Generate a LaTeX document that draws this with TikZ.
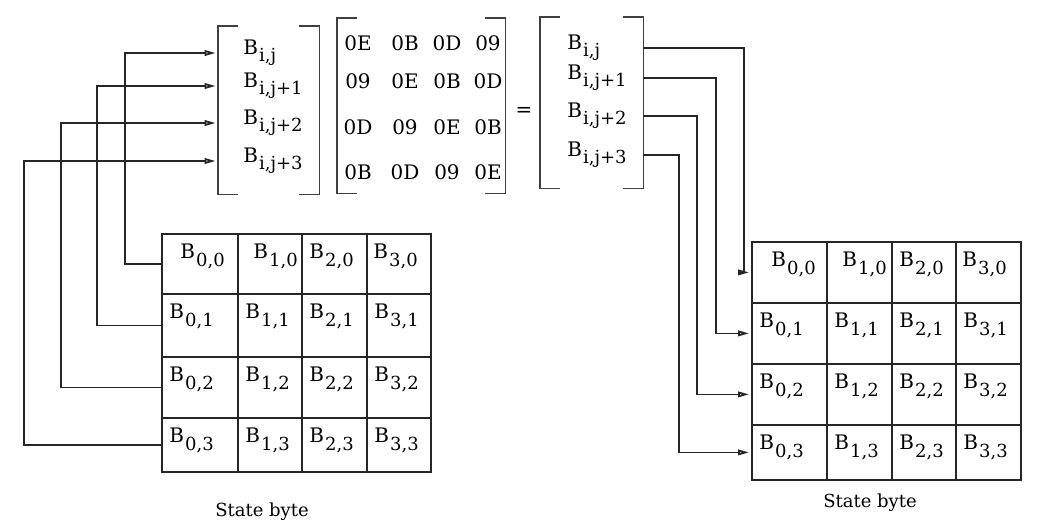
\documentclass[tikz,border=0pt]{standalone}
\usepackage{fontspec}
\setmainfont{DejaVu Serif}
\usetikzlibrary{arrows.meta,positioning,calc}

\newcommand\Bsub[1]{B\kern0.5pt\raisebox{-3.6pt}{\fontsize{9}{10}\selectfont #1}}

\begin{document}
\begin{tikzpicture}[
  x=0.5pt, y=-0.5pt,
  font=\fontsize{10}{12}\selectfont,
  cell/.style={draw=black!85, line width=0.9pt, inner sep=0pt, anchor=north west},
  lbl/.style={inner sep=0pt, anchor=north west},
  ent/.style={inner sep=0pt, anchor=west},
  num/.style={inner sep=0pt},
  caption/.style={inner sep=0pt, font=\fontsize{9}{11}\selectfont},
  vec/.style={inner sep=0pt},
  brk/.style={draw=black!75, line width=0.9pt},
  wire/.style={draw=black!85, line width=0.9pt, -{Triangle[open, length=5.5pt, width=2.8pt]}, shorten >=1pt}
]
\useasboundingbox (0,0) rectangle (1040,525);

% input column vector
\node[vec, minimum width=101*0.5pt, minimum height=168*0.5pt] (vecA) at (268.5,110) {};
\draw[brk] ([xshift=10pt]vecA.north west) -| (vecA.south west) -- ++(20,0);
\draw[brk] ([xshift=-10pt]vecA.north east) -| (vecA.south east) -- ++(-20,0);
\foreach \r/\y/\s in {0/53/{i,j}, 1/86/{i,j+1}, 2/123/{i,j+2}, 3/161/{i,j+3}}
  \node[ent] (a-\r) at (243,\y) {\Bsub{\s}};

% InvMixColumns matrix
\node[vec, minimum width=168*0.5pt, minimum height=175*0.5pt] (vecM) at (421,105.5) {};
\draw[brk] ([xshift=10pt]vecM.north west) -| (vecM.south west) -- ++(20,0);
\draw[brk] ([xshift=-10pt]vecM.north east) -| (vecM.south east) -- ++(-20,0);
\foreach \r/\y/\a/\b/\cc/\d in {0/43/0E/0B/0D/09, 1/81/09/0E/0B/0D, 2/127/0D/09/0E/0B, 3/172/0B/0D/09/0E} {
  \node[num] (m-\r-0) at (358,\y) {\a};
  \node[num] (m-\r-1) at (405,\y) {\b};
  \node[num] (m-\r-2) at (447,\y) {\cc};
  \node[num] (m-\r-3) at (488,\y) {\d};
}

\node[num] (eq) at (524,112) {=};

% output column vector
\node[vec, minimum width=103*0.5pt, minimum height=171*0.5pt] (vecC) at (591.5,102.5) {};
\draw[brk] ([xshift=10pt]vecC.north west) -| (vecC.south west) -- ++(20,0);
\draw[brk] ([xshift=-10pt]vecC.north east) -| (vecC.south east) -- ++(-20,0);
\foreach \r/\y/\s in {0/48/{i,j}, 1/78/{i,j+1}, 2/116/{i,j+2}, 3/155/{i,j+3}}
  \node[ent] (c-\r) at (567,\y) {\Bsub{\s}};

% state grids
\foreach \c/\x/\w/\dx in {0/161/76/19, 1/237/64/16, 2/301/65/8, 3/366/64/7}
  \foreach \r/\y/\h in {0/233/60, 1/293/63, 2/356/61, 3/417/54} {
    \node[cell, minimum width=\w*0.5pt, minimum height=\h*0.5pt] (L-\c-\r) at (\x,\y) {};
    \pgfmathsetmacro\tx{\r==0 ? \dx : 8}
    \node[lbl] (tL-\c-\r) at ([shift={(\tx,11)}]L-\c-\r.north west) {\Bsub{\c,\r}};
  }
\foreach \c/\x/\w/\dx in {0/751/75/20, 1/826/65/16, 2/891/64/8, 3/955/65/7}
  \foreach \r/\y/\h in {0/241/61, 1/302/61, 2/363/61, 3/424/55} {
    \node[cell, minimum width=\w*0.5pt, minimum height=\h*0.5pt] (R-\c-\r) at (\x,\y) {};
    \pgfmathsetmacro\tx{\r==0 ? \dx : 8}
    \node[lbl] (tR-\c-\r) at ([shift={(\tx,11)}]R-\c-\r.north west) {\Bsub{\c,\r}};
  }

\node[caption] (capL) at (262,512) {State byte};
\node[caption] (capR) at (870,503) {State byte};

% wires: grid column to vector, vector to grid column
\foreach \r/\x in {0/125, 1/97, 2/61, 3/24} {
  \coordinate (busL-\r) at (\x,0);
  \draw[wire] (L-0-\r.west) -- (L-0-\r.west -| busL-\r) |- (a-\r -| vecA.west);
}
\foreach \r/\x in {0/744, 1/716, 2/697, 3/679} {
  \coordinate (busR-\r) at (\x,0);
  \draw[wire] (c-\r -| vecC.east) -- (c-\r -| busR-\r) |- (R-0-\r.west);
}

\end{tikzpicture}
\end{document}
